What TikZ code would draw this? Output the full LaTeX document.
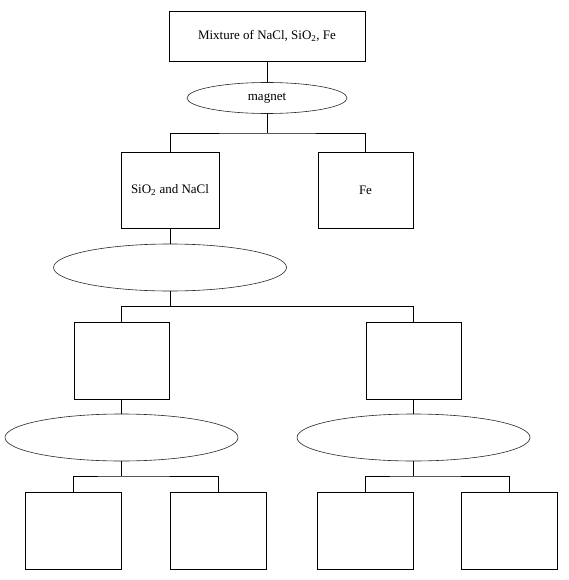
\documentclass[tikz,border=0pt]{standalone}
\usepackage{fontspec}
\setmainfont{Liberation Serif}
\usetikzlibrary{shapes.geometric}

\tikzset{
  box/.style={draw,line width=0.8pt,inner sep=0pt,outer sep=0pt,
    minimum width=#1,minimum height=77pt},
  box/.default=96pt,
  oval/.style={ellipse,draw=black!85,line width=0.6pt,inner sep=0pt,
    outer sep=0pt,minimum width=233pt,minimum height=47pt},
  link/.style={line width=0.8pt}
}

\begin{document}
\begin{tikzpicture}[x=1pt,y=-1pt,font=\fontsize{13}{15}\selectfont]
  \useasboundingbox (0,0) rectangle (569,580);

  \node[box=196pt,minimum height=50pt] (mixture) at (267,36)
    {Mixture of NaCl, SiO\textsubscript{2}, Fe};
  \node[oval,minimum width=160pt,minimum height=31pt] (magnet) at (267,98) {magnet};

  \node[box=98pt,minimum height=76pt] (sinacl) at (170,190)
    {SiO\textsubscript{2} and NaCl};
  \node[box=95pt,minimum height=76pt] (fe) at (365.5,190) {Fe};

  \node[oval] (sep) at (170,267.5) {};
  \node[box=95pt] (left) at (121.5,360.5) {};
  \node[box=95pt] (right) at (413.5,360.5) {};

  \node[oval] (sepl) at (121.5,437.5) {};
  \node[oval] (sepr) at (413.5,437.5) {};

  % bottom row
  \node[box] (ll) at (73,530.5) {};
  \node[box] (lr) at (218.5,530.5) {};
  \node[box] (rl) at (365,530.5) {};
  \node[box] (rr) at (509.5,530.5) {};

  \coordinate (j1) at (267,133);
  \coordinate (j2) at (170,306.5);
  \coordinate (j3) at (121.5,476);
  \coordinate (j4) at (413.5,476);

  \draw[link] (mixture.south) -- (magnet.north);
  \draw[link] (magnet.south) -- (j1);
  \draw[link] (sinacl.north) |- (j1) -| (fe.north);
  \draw[link] (sinacl.south) -- (sep.north);
  \draw[link] (sep.south) -- (j2);
  \draw[link] (left.north) |- (j2) -| (right.north);
  \draw[link] (left.south) -- (sepl.north);
  \draw[link] (right.south) -- (sepr.north);
  \draw[link] (sepl.south) -- (j3);
  \draw[link] (ll.north) |- (j3) -| (lr.north);
  \draw[link] (sepr.south) -- (j4);
  \draw[link] (rl.north) |- (j4) -| (rr.north);
\end{tikzpicture}
\end{document}
